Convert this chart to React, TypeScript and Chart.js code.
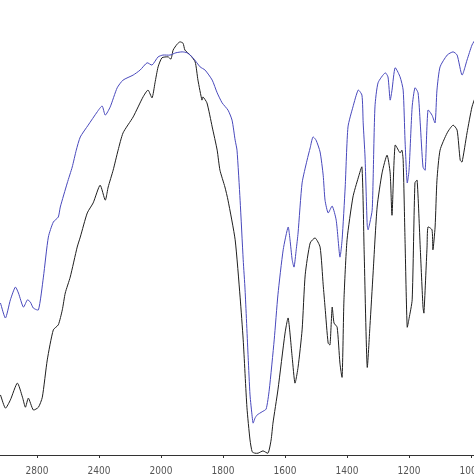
import React, { useEffect, useRef } from 'react';
import { Chart, registerables, LinearScale } from 'chart.js';

Chart.register(...registerables);

// Wavenumber tick labels (cm-1); the axis scale halves above 2000 cm-1
const tickWavenumbers = [2800, 2400, 2000, 1800, 1600, 1400, 1200, 1000];
const axisMinWavenumber = 926;
const axisMaxWavenumber = 3039;
const scaleBreak = 2000;

// Upper (blue) spectrum: [wavenumber, transmittance %]
const blueSpectrum: [number, number][] = [
  [3036, 33.4], [3004, 30.1], [2972, 34.1], [2940, 36.9], [2920, 35.6], [2888, 32.5], [2862, 34.1],
  [2843, 33.6], [2824, 32.3], [2791, 31.9], [2759, 39.1], [2727, 47.9], [2695, 51.2], [2663, 52.3],
  [2650, 54.5], [2605, 59.8], [2573, 63.3], [2547, 67.0], [2521, 69.9], [2470, 72.5], [2412, 75.4],
  [2380, 76.7], [2360, 74.7], [2328, 76.5], [2283, 80.7], [2245, 82.4], [2180, 83.5], [2135, 84.6],
  [2090, 86.2], [2058, 85.7], [2019, 87.5], [1994, 87.9], [1971, 87.9], [1952, 88.4], [1932, 88.6],
  [1916, 88.4], [1897, 87.3], [1874, 85.3], [1858, 84.6], [1835, 82.4], [1819, 79.6], [1803, 77.4],
  [1784, 75.8], [1771, 73.6], [1761, 69.2], [1755, 67.0], [1745, 56.0], [1735, 42.9], [1729, 36.3],
  [1719, 21.5], [1713, 13.2], [1706, 8.4], [1703, 7.0], [1697, 8.1], [1690, 8.8], [1674, 9.5],
  [1661, 10.1], [1651, 14.3], [1635, 25.3], [1623, 35.2], [1606, 45.1], [1590, 50.1], [1584, 47.3],
  [1577, 42.9], [1571, 41.3], [1564, 45.1], [1558, 48.8], [1545, 59.8], [1529, 64.8], [1519, 67.5],
  [1510, 69.9], [1500, 69.2], [1487, 66.6], [1477, 61.5], [1471, 56.0], [1461, 53.2], [1448, 54.7],
  [1435, 51.6], [1423, 43.5], [1416, 47.3], [1406, 58.9], [1397, 72.1], [1381, 76.5], [1364, 80.2],
  [1352, 79.1], [1348, 73.0], [1342, 65.5], [1335, 50.5], [1332, 49.5], [1326, 51.2], [1319, 53.8],
  [1316, 60.4], [1310, 76.5], [1300, 81.8], [1277, 84.0], [1268, 83.1], [1261, 78.0], [1255, 80.2],
  [1245, 85.1], [1229, 83.1], [1219, 80.2], [1213, 69.2], [1206, 59.8], [1200, 62.6], [1190, 76.5],
  [1181, 80.7], [1171, 79.6], [1164, 73.0], [1155, 63.3], [1148, 62.6], [1139, 75.8], [1126, 74.7],
  [1116, 73.0], [1110, 80.2], [1100, 85.3], [1077, 87.9], [1058, 88.6], [1045, 87.9], [1029, 83.5],
  [1013, 86.8], [997, 90.1], [984, 91.6],
];

// Lower (black) spectrum: [wavenumber, transmittance %]
const blackSpectrum: [number, number][] = [
  [3036, 13.2], [3004, 10.3], [2972, 12.1], [2927, 15.8], [2894, 12.7], [2875, 10.5], [2856, 12.5],
  [2824, 9.9], [2791, 10.5], [2766, 12.7], [2734, 20.9], [2695, 27.5], [2663, 28.6], [2637, 31.9],
  [2618, 35.6], [2586, 39.1], [2541, 45.7], [2521, 47.9], [2476, 53.2], [2438, 55.4], [2393, 59.3],
  [2360, 56.0], [2341, 58.9], [2309, 62.6], [2277, 67.0], [2245, 70.8], [2180, 74.3], [2116, 78.7],
  [2084, 80.2], [2058, 78.5], [2039, 81.8], [2019, 85.3], [1997, 87.3], [1977, 87.5], [1968, 87.0],
  [1961, 89.0], [1948, 90.3], [1939, 90.8], [1929, 90.5], [1923, 89.0], [1906, 87.9], [1890, 86.4],
  [1881, 82.4], [1868, 78.0], [1865, 78.7], [1852, 77.4], [1835, 72.1], [1819, 67.0], [1810, 62.6],
  [1794, 58.9], [1784, 56.0], [1761, 47.3], [1745, 34.7], [1735, 25.3], [1723, 10.5], [1713, 3.3],
  [1706, 0.7], [1697, 0.4], [1687, 0.4], [1671, 0.9], [1655, 0.4], [1645, 3.3], [1639, 7.0],
  [1623, 14.3], [1600, 26.8], [1590, 30.1], [1577, 21.5], [1568, 15.8], [1558, 19.3], [1545, 27.5],
  [1535, 39.6], [1519, 46.6], [1503, 47.7], [1487, 45.7], [1477, 37.4], [1471, 32.5], [1461, 24.6],
  [1455, 24.2], [1448, 32.5], [1442, 29.0], [1432, 28.1], [1423, 20.2], [1416, 17.1], [1410, 34.1],
  [1400, 47.3], [1381, 56.7], [1364, 60.9], [1352, 63.3], [1345, 45.1], [1335, 19.3], [1326, 28.5],
  [1316, 40.0], [1303, 54.5], [1287, 62.0], [1271, 65.9], [1261, 62.0], [1255, 52.7], [1245, 68.1],
  [1229, 66.4], [1223, 67.0], [1219, 64.8], [1213, 47.3], [1206, 28.1], [1200, 30.0], [1190, 34.1],
  [1181, 59.8], [1174, 60.4], [1164, 45.7], [1155, 32.5], [1152, 31.2], [1142, 45.7], [1139, 50.1],
  [1126, 49.5], [1123, 45.1], [1116, 50.1], [1110, 60.4], [1100, 67.0], [1077, 70.8], [1058, 72.5],
  [1045, 71.4], [1035, 64.8], [1029, 64.4], [1013, 70.8], [997, 76.5], [984, 79.1],
];

function axisPos(w: number): number {
  return w <= scaleBreak ? scaleBreak - w : (scaleBreak - w) / 2;
}
function axisInv(p: number): number {
  return p >= 0 ? scaleBreak - p : scaleBreak - 2 * p;
}

class IrScale extends LinearScale {
  static id = 'ir';
  static defaults = LinearScale.defaults;
  buildTicks() {
    return tickWavenumbers.map((v) => ({ value: v }));
  }
  getPixelForValue(value: any) {
    if (value === null || value === undefined || isNaN(value)) return NaN;
    const a = axisPos(this.max);
    const b = axisPos(this.min);
    return this.getPixelForDecimal((axisPos(value) - a) / (b - a));
  }
  getValueForPixel(pixel: number) {
    const a = axisPos(this.max);
    const b = axisPos(this.min);
    return axisInv(a + this.getDecimalForPixel(pixel) * (b - a));
  }
}
Chart.register(IrScale as any);

export default function App() {
  const ref = useRef<HTMLCanvasElement | null>(null);

  useEffect(() => {
    document.body.style.margin = '0';
    const canvas = ref.current;
    if (!canvas) return;
    const chart = new Chart(canvas, {
      type: 'line',
      data: {
        datasets: [
          {
            label: 'upper',
            data: blueSpectrum.map(([x, y]) => ({ x, y })),
            borderColor: '#4848bc',
            borderWidth: 1,
            pointRadius: 0,
            tension: 0.2,
            fill: false,
          },
          {
            label: 'lower',
            data: blackSpectrum.map(([x, y]) => ({ x, y })),
            borderColor: '#1e1e1e',
            borderWidth: 1,
            pointRadius: 0,
            tension: 0.2,
            fill: false,
          },
        ],
      },
      options: {
        responsive: false,
        animation: false,
        events: [],
        layout: { padding: 0 },
        plugins: {
          legend: { display: false },
          tooltip: { enabled: false },
          title: { display: false },
        },
        scales: {
          x: {
            type: 'ir' as any,
            position: 'bottom',
            min: axisMinWavenumber,
            max: axisMaxWavenumber,
            afterFit: (s: any) => {
              s.height = 19;
            },
            grid: {
              display: true,
              drawOnChartArea: false,
              drawTicks: true,
              tickLength: 3,
              color: '#333',
              lineWidth: 1,
            },
            border: { display: true, color: '#333', width: 1 },
            ticks: {
              autoSkip: false,
              maxRotation: 0,
              minRotation: 0,
              padding: 7,
              color: '#555',
              font: {
                family: "'Liberation Sans Narrow', 'DejaVu Sans Condensed', 'Liberation Sans', Arial, sans-serif",
                size: 10,
              },
              callback: (v: any) => String(v),
            },
          } as any,
          y: { type: 'linear', display: false, min: 0, max: 100 },
        },
      },
    });
    return () => chart.destroy();
  }, []);

  return (
    <div style={{ width: 474, height: 474, overflow: 'hidden', background: '#fff' }}>
      <canvas ref={ref} width={494} height={474} style={{ display: 'block' }} />
    </div>
  );
}
